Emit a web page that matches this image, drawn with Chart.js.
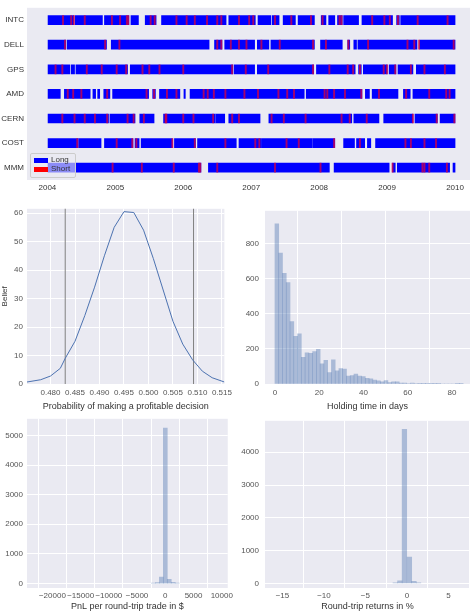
<!DOCTYPE html>
<html><head><meta charset="utf-8">
<script src="https://cdn.jsdelivr.net/npm/chart.js@4"></script>
<style>
body{margin:0;background:#fff;width:474px;height:612px;position:relative;overflow:hidden;font-family:"Liberation Sans",Arial,sans-serif}
.box{position:absolute}
#leg{position:absolute;left:30px;top:153px;width:44px;height:23px;background:rgba(234,234,242,0.6);border:1px solid #ccc;border-radius:2px;font-size:8px;color:#333}
#leg div{position:absolute;left:3px;width:14px;height:5px}
#leg span{position:absolute;left:20px}
</style></head><body>
<div class="box" style="left:0;top:0;width:474px;height:198px"><canvas id="c0"></canvas></div>
<div class="box" style="left:0;top:200px;width:236px;height:212px"><canvas id="c1"></canvas></div>
<div class="box" style="left:236px;top:200px;width:238px;height:212px"><canvas id="c2"></canvas></div>
<div class="box" style="left:0;top:410px;width:236px;height:202px"><canvas id="c3"></canvas></div>
<div class="box" style="left:236px;top:410px;width:238px;height:202px"><canvas id="c4"></canvas></div>
<div id="leg"><div style="top:4px;background:#00f"></div><span style="top:1px">Long</span><div style="top:13px;background:#f00"></div><span style="top:10px">Short</span></div>
<script>
const tickers=["INTC","DELL","GPS","AMD","CERN","COST","MMM"];
const longSegments={
INTC:[[2004.01,2004.39],[2004.41,2004.81],[2004.84,2005.20],[2005.23,2005.34],[2005.44,2005.60],[2005.68,2006.63],[2006.67,2007.06],[2007.10,2007.29],[2007.31,2007.41],[2007.47,2007.65],[2007.69,2007.93],[2008.03,2008.10],[2008.14,2008.23],[2008.27,2008.34],[2008.36,2008.58],[2008.63,2009.08],[2009.14,2009.18],[2009.20,2010.0]],
DELL:[[2004.01,2004.27],[2004.29,2004.87],[2004.94,2006.38],[2006.46,2006.57],[2006.61,2007.05],[2007.09,2007.26],[2007.29,2007.93],[2008.02,2008.34],[2008.42,2008.45],[2008.51,2008.55],[2008.57,2009.44],[2009.48,2010.0]],
GPS:[[2004.01,2004.33],[2004.35,2004.40],[2004.42,2005.18],[2005.22,2006.73],[2006.75,2007.05],[2007.09,2007.92],[2007.96,2008.53],[2008.58,2008.62],[2008.65,2009.0],[2009.03,2009.13],[2009.16,2009.38],[2009.43,2010.0]],
AMD:[[2004.01,2004.19],[2004.25,2004.63],[2004.67,2004.71],[2004.74,2004.77],[2004.83,2004.92],[2004.96,2005.49],[2005.55,2005.59],[2005.65,2005.95],[2006.01,2006.03],[2006.10,2007.78],[2007.81,2008.63],[2008.68,2008.74],[2008.78,2009.16],[2009.24,2009.34],[2009.38,2010.0]],
CERN:[[2004.01,2004.90],[2004.92,2005.29],[2005.36,2005.57],[2005.71,2006.47],[2006.48,2006.61],[2006.67,2007.13],[2007.26,2008.48],[2008.51,2008.88],[2008.95,2009.38],[2009.41,2009.74],[2009.78,2010.0]],
COST:[[2004.01,2004.45],[2004.46,2004.79],[2004.84,2005.26],[2005.29,2005.35],[2005.38,2005.84],[2005.87,2006.18],[2006.21,2006.78],[2006.82,2007.14],[2007.15,2007.90],[2007.91,2008.23],[2008.36,2008.52],[2008.55,2008.67],[2008.71,2008.76],[2008.83,2010.0]],
MMM:[[2004.01,2006.26],[2006.37,2008.15],[2008.22,2009.03],[2009.08,2009.12],[2009.15,2009.92],[2009.97,2010.0]]};
const shortDates={
INTC:[2004.23,2004.35,2004.39,2004.55,2004.95,2005.07,2005.17,2005.19,2005.52,2005.58,2005.90,2006.05,2006.17,2006.35,2006.50,2006.56,2006.82,2006.97,2007.03,2007.35,2007.59,2007.88,2008.05,2008.30,2008.33,2008.78,2008.96,2009.04,2009.16,2009.45,2009.89],
DELL:[2004.26,2004.85,2005.06,2006.50,2006.56,2006.70,2006.82,2006.93,2007.15,2007.42,2007.91,2008.10,2008.43,2008.72,2009.30,2009.40,2009.47,2009.98],
GPS:[2004.12,2004.22,2004.58,2004.80,2005.02,2005.16,2005.40,2005.50,2005.65,2006.00,2006.72,2006.92,2007.25,2007.91,2008.15,2008.42,2008.50,2008.60,2008.95,2009.00,2009.12,2009.35,2009.55,2009.85],
AMD:[2004.30,2004.38,2004.50,2004.88,2005.46,2005.57,2005.76,2005.90,2006.30,2006.36,2006.45,2006.62,2006.90,2007.10,2007.40,2007.53,2007.63,2008.08,2008.12,2008.22,2008.38,2008.62,2008.88,2009.28,2009.62,2009.87,2009.92],
CERN:[2004.22,2004.40,2004.55,2004.70,2004.88,2005.18,2005.27,2005.42,2005.74,2005.75,2006.00,2006.15,2006.44,2006.72,2006.82,2007.30,2007.48,2007.80,2008.33,2008.45,2008.70,2009.38,2009.73,2009.99],
COST:[2004.44,2005.02,2005.25,2005.31,2005.84,2006.17,2006.62,2007.06,2007.12,2007.52,2007.70,2008.22,2008.60,2009.27,2009.35,2009.55,2009.72],
MMM:[2004.96,2005.39,2005.86,2006.23,2006.25,2006.50,2007.35,2008.02,2009.08,2009.52,2009.55,2009.62,2009.88]};
const yearTicks=[2004,2005,2006,2007,2008,2009,2010];

const probX=[0.4752,0.478,0.480,0.482,0.483,0.485,0.487,0.489,0.491,0.493,0.495,0.497,0.499,0.501,0.503,0.505,0.507,0.509,0.511,0.513,0.5155];
const belief=[0.7,1.5,2.8,5.5,9,15,24,34,45,55,60.5,60.2,54,44,33,22,14,8.5,4.5,2.2,0.7];
const ciLines=[0.483,0.5092];
const probTicks=[0.480,0.485,0.490,0.495,0.500,0.505,0.510,0.515];

const holdStart=0, holdWidth=1.7;
const holdCounts=[912,745,630,578,355,272,285,152,178,175,185,197,115,135,65,137,75,88,85,45,48,57,45,42,32,30,22,18,12,20,8,12,12,5,5,3,5,3,4,2,2,1,2,1,0,0,0,0,1,1];

const pnlCenters=[-2100,-1400,-700,0,700,1400,2100];
const pnlCounts=[10,30,220,5250,140,40,10];
const retCenters=[-1.4,-0.85,-0.3,0.3,0.85,1.4];
const retCounts=[15,80,4700,800,60,15];

const BG='#EAEAF2', TC='#555', FONT='Liberation Sans';
Chart.defaults.font.family=FONT; Chart.defaults.font.size=8; Chart.defaults.color=TC;
Chart.defaults.animation=false; Chart.defaults.responsive=true; Chart.defaults.maintainAspectRatio=false;
const bgPlugin={id:'bg',beforeDraw(c){const a=c.chartArea,x=c.ctx;x.save();x.fillStyle=BG;x.fillRect(a.left,a.top,a.right-a.left,a.bottom-a.top);x.restore();}};
const fixW=w=>s=>{s.width=w}; const fixH=h=>s=>{s.height=h};
const setTicks=arr=>s=>{s.ticks=arr.map(v=>({value:v}))};
const noleg={legend:{display:false},tooltip:{enabled:false}};

const longData=[],shortData=[];
tickers.forEach(t=>{longSegments[t].forEach(s=>longData.push({y:t,x:s}));shortDates[t].forEach(d=>shortData.push({y:t,x:[d-0.009,d+0.009]}));});
new Chart(document.getElementById('c0'),{type:'bar',plugins:[bgPlugin],
 data:{labels:tickers,datasets:[{data:longData,backgroundColor:'#0000FF',barThickness:9,order:2},{data:shortData,backgroundColor:'rgba(220,0,60,0.75)',barThickness:9,order:1}]},
 options:{indexAxis:'y',layout:{padding:{top:3,right:4}},plugins:noleg,
  scales:{y:{type:'category',grid:{display:false,drawTicks:false,tickLength:0},border:{display:false},ticks:{color:'#333',padding:3},afterFit:fixW(27)},
   x:{type:'linear',min:2003.7,max:2010.22,grid:{display:false,drawTicks:false,tickLength:0},border:{display:false},ticks:{color:'#333',padding:3,callback:v=>String(v)},afterBuildTicks:setTicks(yearTicks),afterFit:fixH(18)}},
  datasets:{bar:{grouped:false}}}});

function gridAxis(extra){return Object.assign({grid:{color:'#fff',lineWidth:1,drawTicks:false,tickLength:0},border:{display:false}},extra);}
new Chart(document.getElementById('c1'),{type:'line',plugins:[bgPlugin],
 data:{datasets:[{data:probX.map((x,i)=>({x,y:belief[i]})),borderColor:'#4C72B0',borderWidth:1,pointRadius:0,tension:0},
  ...ciLines.map(v=>({data:[{x:v,y:0},{x:v,y:70}],borderColor:'#808080',borderWidth:1,pointRadius:0}))]},
 options:{layout:{padding:{top:3,right:4}},plugins:noleg,
  scales:{x:gridAxis({type:'linear',min:0.4752,max:0.5155,ticks:{padding:4,callback:v=>v.toFixed(3)},afterBuildTicks:setTicks(probTicks),afterFit:fixH(28),
     title:{display:true,text:'Probability of making a profitable decision',color:'#333',font:{size:9},padding:0}}),
   y:gridAxis({min:0,max:61.5,ticks:{padding:4},afterBuildTicks:setTicks([0,10,20,30,40,50,60]),afterFit:fixW(27),
     title:{display:true,text:'Belief',color:'#333',font:{size:8},padding:0}})}}});

const histColor='rgba(76,114,176,0.4)';
new Chart(document.getElementById('c2'),{type:'bar',plugins:[bgPlugin],
 data:{datasets:[{data:holdCounts.map((c,i)=>({x:holdStart+holdWidth*(i+0.5),y:c})),backgroundColor:histColor,barPercentage:1,categoryPercentage:1}]},
 options:{layout:{padding:{top:3,right:4}},plugins:noleg,
  scales:{x:gridAxis({type:'linear',offset:false,min:-4.5,max:88.1,ticks:{padding:4},afterBuildTicks:setTicks([0,20,40,60,80]),afterFit:fixH(28),
     title:{display:true,text:'Holding time in days',color:'#333',font:{size:9},padding:0}}),
   y:gridAxis({min:0,max:986,ticks:{padding:6},afterBuildTicks:setTicks([0,200,400,600,800]),afterFit:fixW(29)})}}});

const minusFmt=v=>v<0?'\u2212'+(-v):String(v);
new Chart(document.getElementById('c3'),{type:'bar',plugins:[bgPlugin],
 data:{datasets:[{data:pnlCenters.map((x,i)=>({x,y:pnlCounts[i]})),backgroundColor:histColor,barPercentage:1,categoryPercentage:1}]},
 options:{layout:{padding:{top:2,right:4}},plugins:noleg,
  scales:{x:gridAxis({type:'linear',offset:false,min:-24500,max:11060,ticks:{padding:3,callback:minusFmt},afterBuildTicks:setTicks([-20000,-15000,-10000,-5000,0,5000,10000]),afterFit:fixH(24),
     title:{display:true,text:'PnL per round-trip trade in $',color:'#333',font:{size:9},padding:0}}),
   y:gridAxis({min:-150,max:5560,ticks:{padding:4,callback:v=>String(v)},afterBuildTicks:setTicks([0,1000,2000,3000,4000,5000]),afterFit:fixW(27)})}}});

new Chart(document.getElementById('c4'),{type:'bar',plugins:[bgPlugin],
 data:{datasets:[{data:retCenters.map((x,i)=>({x,y:retCounts[i]})),backgroundColor:histColor,barPercentage:1,categoryPercentage:1}]},
 options:{layout:{padding:{top:2,right:4}},plugins:noleg,
  scales:{x:gridAxis({type:'linear',offset:false,min:-17.1,max:7.6,ticks:{padding:3,callback:minusFmt},afterBuildTicks:setTicks([-15,-10,-5,0,5]),afterFit:fixH(24),
     title:{display:true,text:'Round-trip returns in %',color:'#333',font:{size:9},padding:0}}),
   y:gridAxis({min:-140,max:4960,ticks:{padding:6,callback:v=>String(v)},afterBuildTicks:setTicks([0,1000,2000,3000,4000]),afterFit:fixW(29)})}}});
</script></body></html>
